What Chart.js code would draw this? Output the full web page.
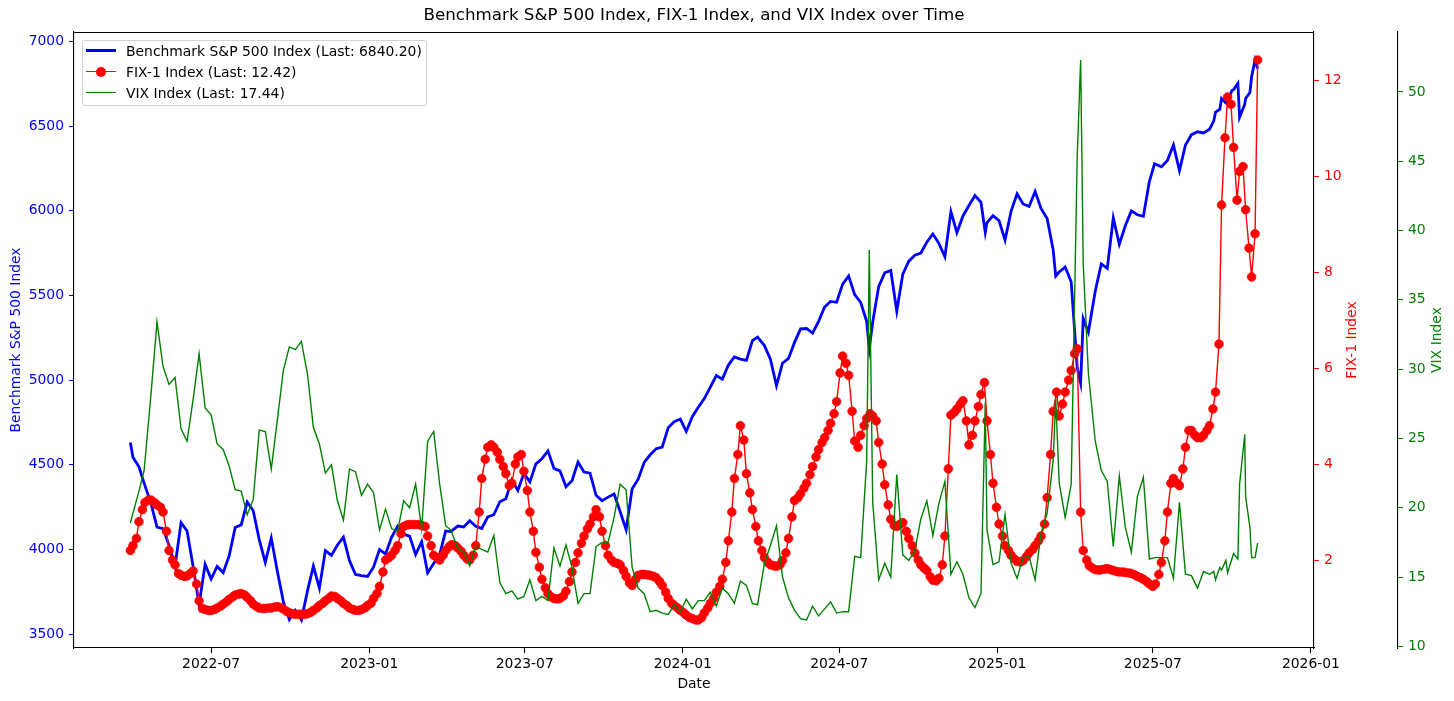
<!DOCTYPE html>
<html>
<head>
<meta charset="utf-8">
<title>Benchmark S&amp;P 500 Index, FIX-1 Index, and VIX Index over Time</title>
<script src="https://cdn.jsdelivr.net/npm/chart.js@4.4.1/dist/chart.umd.min.js"></script>
<style>
  body { margin: 0; background: #fff; }
  #wrap { position: relative; width: 1454px; height: 701px; }
  #legend {
    position: absolute; left: 82px; top: 40px; width: 345px; height: 66px;
    box-sizing: border-box; border: 1px solid #d3d3d3; border-radius: 3px;
    background: rgba(255,255,255,0.8);
    font: 13.9px 'DejaVu Sans', sans-serif; color: #000;
  }
  #legend .row { position: absolute; left: 0; height: 20px; width: 100%; }
  #legend .line { position: absolute; left: 3px; width: 30px; }
  #legend .dot { position: absolute; left: 13px; top: 5px; width: 10px; height: 10px; border-radius: 50%; }
  #legend .txt { position: absolute; left: 43px; top: 0; line-height: 20px; white-space: nowrap; }
</style>
</head>
<body>
<div id="wrap">
  <canvas id="myChart" width="1454" height="701"></canvas>
  <div id="legend"></div>
</div>
<script>
// S&P and VIX: weekly closes plus a few spike days
var dates = [
  '2022-03-29',
  '2022-04-01','2022-04-08','2022-04-14','2022-04-22','2022-04-29',
  '2022-05-06','2022-05-13','2022-05-20','2022-05-27',
  '2022-06-03','2022-06-10','2022-06-17','2022-06-24',
  '2022-07-01','2022-07-08','2022-07-15','2022-07-22','2022-07-29',
  '2022-08-05','2022-08-12','2022-08-19','2022-08-26',
  '2022-09-02','2022-09-09','2022-09-16','2022-09-23','2022-09-30',
  '2022-10-07','2022-10-14','2022-10-21','2022-10-28',
  '2022-11-04','2022-11-11','2022-11-18','2022-11-25',
  '2022-12-02','2022-12-09','2022-12-16','2022-12-23','2022-12-30',
  '2023-01-06','2023-01-13','2023-01-20','2023-01-27',
  '2023-02-03','2023-02-10','2023-02-17','2023-02-24',
  '2023-03-03','2023-03-10','2023-03-17','2023-03-24','2023-03-31',
  '2023-04-06','2023-04-14','2023-04-21','2023-04-28',
  '2023-05-05','2023-05-12','2023-05-19','2023-05-26',
  '2023-06-02','2023-06-09','2023-06-16','2023-06-23','2023-06-30',
  '2023-07-07','2023-07-14','2023-07-21','2023-07-28',
  '2023-08-04','2023-08-11','2023-08-18','2023-08-25',
  '2023-09-01','2023-09-08','2023-09-15','2023-09-22','2023-09-29',
  '2023-10-06','2023-10-13','2023-10-20','2023-10-27',
  '2023-11-03','2023-11-10','2023-11-17','2023-11-24',
  '2023-12-01','2023-12-08','2023-12-15','2023-12-22','2023-12-29',
  '2024-01-05','2024-01-12','2024-01-19','2024-01-26',
  '2024-02-02','2024-02-09','2024-02-16','2024-02-23',
  '2024-03-01','2024-03-08','2024-03-15','2024-03-22','2024-03-28',
  '2024-04-05','2024-04-12','2024-04-19','2024-04-26',
  '2024-05-03','2024-05-10','2024-05-17','2024-05-24','2024-05-31',
  '2024-06-07','2024-06-14','2024-06-21','2024-06-28',
  '2024-07-05','2024-07-12','2024-07-19','2024-07-26',
  '2024-08-02','2024-08-05','2024-08-09','2024-08-16','2024-08-23','2024-08-30',
  '2024-09-06','2024-09-13','2024-09-20','2024-09-27',
  '2024-10-04','2024-10-11','2024-10-18','2024-10-25',
  '2024-11-01','2024-11-08','2024-11-15','2024-11-22','2024-11-29',
  '2024-12-06','2024-12-13','2024-12-18','2024-12-20','2024-12-27',
  '2025-01-03','2025-01-10','2025-01-17','2025-01-24','2025-01-31',
  '2025-02-07','2025-02-14','2025-02-21','2025-02-28',
  '2025-03-07','2025-03-10','2025-03-14','2025-03-21','2025-03-28',
  '2025-04-04','2025-04-08','2025-04-11','2025-04-17','2025-04-25',
  '2025-05-02','2025-05-09','2025-05-16','2025-05-23','2025-05-30',
  '2025-06-06','2025-06-13','2025-06-20','2025-06-27',
  '2025-07-03','2025-07-11','2025-07-18','2025-07-25',
  '2025-08-01','2025-08-08','2025-08-15','2025-08-22','2025-08-29',
  '2025-09-05','2025-09-10','2025-09-12','2025-09-17','2025-09-19','2025-09-24','2025-09-26',
  '2025-10-01','2025-10-03','2025-10-08','2025-10-10','2025-10-16','2025-10-17','2025-10-22','2025-10-24','2025-10-28','2025-10-31'
];

var spx = [
  4632,
  4545, 4488, 4392, 4272, 4132,
  4123, 4024, 3901, 4158,
  4109, 3901, 3675, 3912,
  3825, 3899, 3863, 3962, 4130,
  4145, 4280, 4228, 4058,
  3924, 4067, 3873, 3693, 3586,
  3640, 3583, 3752, 3901,
  3771, 3993, 3965, 4026,
  4072, 3934, 3852, 3845, 3840,
  3895, 3999, 3973, 4071,
  4136, 4090, 4079, 3970,
  4046, 3862, 3917, 3971, 4109,
  4105, 4138, 4133, 4169,
  4136, 4124, 4192, 4205,
  4282, 4299, 4410, 4348, 4450,
  4399, 4505, 4536, 4582,
  4478, 4464, 4370, 4406,
  4516, 4457, 4450, 4320, 4288,
  4309, 4327, 4224, 4117,
  4358, 4415, 4514, 4559,
  4595, 4604, 4719, 4755, 4770,
  4697, 4784, 4840, 4891,
  4959, 5027, 5006, 5089,
  5137, 5124, 5117, 5234, 5254,
  5204, 5123, 4967, 5100,
  5128, 5223, 5303, 5305, 5278,
  5347, 5432, 5465, 5460,
  5567, 5615, 5505, 5459,
  5346, 5186, 5344, 5554, 5634, 5648,
  5408, 5626, 5703, 5738,
  5751, 5815, 5864, 5808,
  5729, 5996, 5871, 5970, 6032,
  6090, 6051, 5872, 5931, 5971,
  5942, 5827, 5997, 6101, 6041,
  6026, 6115, 6013, 5955,
  5770, 5615, 5639, 5668, 5581,
  5074, 4982, 5363, 5283, 5525,
  5687, 5660, 5958, 5803, 5912,
  6000, 5977, 5968, 6173,
  6279, 6260, 6297, 6389,
  6238, 6389, 6450, 6467, 6460,
  6482, 6532, 6584, 6600, 6664, 6638, 6644,
  6711, 6716, 6753, 6553, 6630, 6664, 6699, 6792, 6891, 6840.20
];

var vix = [
  18.9,
  19.6, 21.2, 22.7, 28.2, 33.4,
  30.2, 28.9, 29.4, 25.7,
  24.8, 27.8, 31.1, 27.2,
  26.7, 24.6, 24.2, 23.0, 21.3,
  21.2, 19.5, 20.6, 25.6,
  25.5, 22.8, 26.3, 29.9, 31.6,
  31.4, 32.0, 29.7, 25.8,
  24.6, 22.5, 23.1, 20.5,
  19.1, 22.8, 22.6, 20.9, 21.7,
  21.1, 18.4, 19.9, 18.5,
  18.3, 20.5, 20.0, 21.7,
  18.5, 24.8, 25.5, 21.7, 18.7,
  18.4, 17.1, 16.8, 15.8,
  17.2, 17.0, 16.8, 18.0,
  14.6, 13.8, 14.0, 13.4, 13.6,
  14.8, 13.3, 13.6, 13.3,
  17.1, 15.8, 17.3, 15.7,
  13.1, 13.8, 13.8, 17.2, 17.5,
  17.5, 19.3, 21.7, 21.3,
  15.7, 14.2, 13.8, 12.5,
  12.6, 12.4, 12.3, 13.0, 12.5,
  13.4, 12.7, 13.3, 13.3,
  13.9, 12.9, 14.2, 13.8,
  13.1, 14.7, 14.4, 13.1, 13.0,
  16.0, 17.3, 18.7, 15.0,
  13.5, 12.6, 12.0, 11.9, 12.9,
  12.2, 12.7, 13.2, 12.4,
  12.5, 12.5, 16.5, 16.4,
  23.4, 38.6, 20.4, 14.8, 16.0, 15.0,
  22.4, 16.6, 16.2, 16.9,
  19.2, 20.5, 18.0, 20.3,
  21.9, 15.2, 16.1, 15.2, 13.5,
  12.8, 13.8, 27.6, 18.4, 15.9,
  16.1, 19.5, 16.0, 14.9, 16.4,
  16.5, 14.8, 18.2, 19.6,
  23.4, 27.9, 21.8, 19.3, 21.7,
  45.3, 52.3, 37.6, 29.7, 24.8,
  22.7, 21.9, 17.2, 22.3, 18.6,
  16.8, 20.8, 22.2, 16.3,
  16.4, 16.4, 16.4, 14.9,
  20.4, 15.2, 15.1, 14.2, 15.4,
  15.2, 15.4, 14.8, 15.7, 15.5, 16.2, 15.3,
  16.3, 16.7, 16.3, 21.7, 25.3, 20.8, 18.6, 16.4, 16.4, 17.44
];

// FIX-1: read twice a week (Tue, Fri) from 2022-03-29 to 2025-10-31
var fixStart = '2022-03-29';
var fix = [
  2.2, 2.3,   2.45, 2.8,  3.05, 3.2,  3.25, 3.25,
  3.2, 3.15,  3.1, 3.0,   2.6, 2.2,   2.0, 1.9,
  1.72, 1.68, 1.66, 1.67, 1.72, 1.77, 1.5, 1.15,
  0.99, 0.97, 0.95, 0.95, 0.97, 1.0,  1.04, 1.08,
  1.13, 1.18, 1.23, 1.27, 1.29, 1.3,  1.27, 1.22,
  1.15, 1.08, 1.03, 1.0,  0.99, 0.99, 1.0, 1.0,
  1.02, 1.03, 1.01, 0.98, 0.93, 0.9,  0.88, 0.87,
  0.87, 0.87, 0.87, 0.88, 0.91, 0.95, 1.0, 1.05,
  1.1, 1.15,  1.2, 1.25,  1.24, 1.2,  1.15, 1.1,
  1.05, 1.0,  0.97, 0.95, 0.95, 0.97, 1.0, 1.05,
  1.1, 1.2,   1.3, 1.45,  1.75, 2.0,  2.05, 2.1,
  2.2, 2.3,   2.55, 2.7,  2.73, 2.74, 2.74, 2.74,
  2.74, 2.72, 2.7, 2.5,   2.3, 2.1,   2.05, 2.0,
  2.1, 2.2,   2.28, 2.32, 2.3, 2.25,  2.18, 2.1,
  2.02, 2.0,  2.1, 2.3,   3.0, 3.7,   4.1, 4.35,
  4.4, 4.35,  4.25, 4.1,  3.95, 3.8,  3.55, 3.6,
  4.0, 4.15,  4.2, 3.85,  3.45, 3.0,  2.6, 2.16,
  1.85, 1.6,  1.42, 1.3,  1.23, 1.2,  1.19, 1.2,
  1.25, 1.35, 1.55, 1.75, 1.95, 2.15, 2.35, 2.5,
  2.65, 2.75, 2.9, 3.05,  2.9, 2.6,   2.3, 2.1,
  2.0, 1.95,  1.93, 1.9,  1.78, 1.66, 1.52, 1.47,
  1.6, 1.68,  1.7, 1.7,   1.69, 1.68, 1.66, 1.63,
  1.55, 1.47, 1.33, 1.2,  1.1, 1.05,  1.0, 0.95,
  0.9, 0.85,  0.8, 0.78,  0.75, 0.75, 0.8, 0.9,
  1.0, 1.1,   1.2, 1.33,  1.45, 1.6,  1.95, 2.4,
  3.0, 3.7,   4.2, 4.8,   4.5, 3.8,   3.4, 3.05,
  2.7, 2.4,   2.2, 2.05,  1.95, 1.9,  1.88, 1.87,
  1.9, 1.99,  2.15, 2.45, 2.9, 3.24,  3.3, 3.38,
  3.5, 3.6,   3.78, 3.95, 4.15, 4.3,  4.45, 4.55,
  4.7, 4.85,  5.05, 5.3,  5.9, 6.25,  6.1, 5.85,
  5.1, 4.48,  4.35, 4.6,  4.8, 4.95,  5.05, 5.0,
  4.9, 4.45,  4.0, 3.57,  3.15, 2.85, 2.72, 2.7,
  2.75, 2.78, 2.6, 2.45,  2.3, 2.15,  2.0, 1.9,
  1.83, 1.78, 1.65, 1.58, 1.57, 1.62, 1.9, 2.5,
  3.9, 5.02,  5.08, 5.15, 5.25, 5.32, 4.9, 4.4,
  4.6, 4.9,   5.2, 5.45,  5.7, 4.9,   4.2, 3.6,
  3.1, 2.75,  2.5, 2.3,   2.2, 2.1,   2.02, 1.97,
  1.96, 1.99, 2.07, 2.15, 2.22, 2.3,  2.4, 2.5,
  2.75, 3.3,  4.2, 5.1,   5.5, 5.0,   5.25, 5.5,
  5.75, 5.95, 6.3, 6.4,   3.0, 2.2,   2.0, 1.88,
  1.83, 1.8,  1.79, 1.8,  1.81, 1.82, 1.8, 1.78,
  1.76, 1.75, 1.75, 1.74, 1.73, 1.72, 1.69, 1.66,
  1.63, 1.6,  1.55, 1.5,  1.45, 1.5,  1.7, 1.95,
  2.4, 3.0,   3.6, 3.7,   3.6, 3.55,  3.9, 4.35,
  4.7, 4.7,   4.6, 4.55,  4.55, 4.6,  4.7, 4.8,
  5.15, 5.5,  6.5, 9.4,   10.8, 11.65, 11.5, 10.6,
  9.5, 10.1,  10.2, 9.3,  8.5, 7.9,   8.8, 12.42
];

var xTickLabels = ['2022-07','2023-01','2023-07','2024-01','2024-07','2025-01','2025-07','2026-01'];
var spxTicks = [3500, 4000, 4500, 5000, 5500, 6000, 6500, 7000];
var fixTicks = [2, 4, 6, 8, 10, 12];
var vixTicks = [10, 15, 20, 25, 30, 35, 40, 45, 50];

var FONT = "'DejaVu Sans', sans-serif";
Chart.defaults.font.family = FONT;
Chart.defaults.font.size = 13.9;
Chart.defaults.color = '#000';

var DAY = 864e5;
function toTime(s) { return Date.parse(s); }

// Tue/Fri sampling dates for FIX-1
var fixDates = [];
for (var k = 0, t = toTime(fixStart); k < fix.length; k++) {
  fixDates.push(t);
  t += (k % 2 === 0 ? 3 : 4) * DAY;
}

function pts(times, vals) { return vals.map(function (v, i) { return { x: times[i], y: v }; }); }
// matplotlib style 5% margins
function range(vals) {
  var lo = Math.min.apply(null, vals), hi = Math.max.apply(null, vals), p = (hi - lo) * 0.05;
  return { min: lo - p, max: hi + p };
}
function fixedTicks(list) {
  return function (s) { s.ticks = list.map(function (v) { return { value: v }; }); };
}
function tickGrid(color) {
  return { drawOnChartArea: false, drawTicks: true, tickLength: 5, tickColor: color, tickWidth: 1.1 };
}
function plain(v) { return String(v); }
var frameBorder = { display: true, color: '#000', width: 1.1 };

var weekTimes = dates.map(toTime);
var t0 = weekTimes[0], t1 = weekTimes[weekTimes.length - 1];
var xPad = (t1 - t0) * 0.05;
var spxR = range(spx), fixR = range(fix), vixR = range(vix);

var extras = {
  id: 'extras',
  afterDraw: function (chart) {
    var ctx = chart.ctx, a = chart.chartArea, s = chart.scales;
    ctx.save();
    ctx.strokeStyle = '#000';
    ctx.lineWidth = 1.1;
    ctx.beginPath();
    ctx.moveTo(a.left, Math.round(a.top) + 0.5);
    ctx.lineTo(a.right, Math.round(a.top) + 0.5);
    ctx.stroke();
    ctx.font = '13.9px ' + FONT;
    ctx.textAlign = 'center';
    ctx.textBaseline = 'middle';
    [[s.yFix, 'FIX-1 Index', 'red', 38], [s.yVix, 'VIX Index', 'green', 39]].forEach(function (tt) {
      ctx.save();
      ctx.translate(tt[0].left + tt[3], (a.top + a.bottom) / 2);
      ctx.rotate(-Math.PI / 2);
      ctx.fillStyle = tt[2];
      ctx.fillText(tt[1], 0, 0);
      ctx.restore();
    });
    ctx.restore();
  }
};

var datasets = [{
    label: 'Benchmark S&P 500 Index',
    data: pts(weekTimes, spx),
    yAxisID: 'ySpx',
    borderColor: 'blue',
    borderWidth: 2.8,
    pointRadius: 0,
    order: 3
  }, {
    label: 'FIX-1 Index',
    data: pts(fixDates, fix),
    yAxisID: 'yFix',
    borderColor: 'red',
    backgroundColor: 'red',
    borderWidth: 1.4,
    pointRadius: 4.3,
    pointBorderWidth: 0.8,
    pointBorderColor: 'red',
    pointBackgroundColor: 'red',
    order: 2
  }, {
    label: 'VIX Index',
    data: pts(weekTimes, vix),
    yAxisID: 'yVix',
    borderColor: 'green',
    borderWidth: 1.4,
    pointRadius: 0,
    order: 1
  }];

var ctx = document.getElementById('myChart').getContext('2d');
var chart = new Chart(ctx, {
  type: 'line',
  data: { datasets: datasets },
  plugins: [extras],
  options: {
    responsive: false,
    animation: false,
    devicePixelRatio: 1,
    events: [],
    layout: { padding: 0 },
    elements: { line: { tension: 0 } },
    plugins: {
      legend: { display: false },
      tooltip: { enabled: false },
      title: {
        display: true,
        text: 'Benchmark S&P 500 Index, FIX-1 Index, and VIX Index over Time',
        fullSize: false,
        color: '#000',
        font: { size: 16.7, weight: 'normal' },
        padding: { top: 6, bottom: 6 }
      }
    },
    scales: {
      x: {
        type: 'linear',
        min: t0 - xPad,
        max: t1 + xPad,
        afterBuildTicks: function (s) {
          s.ticks = xTickLabels.map(function (l) { return { value: toTime(l + '-01') }; });
        },
        afterFit: function (s) { s.height = 53; },
        ticks: {
          color: '#000', padding: 3.5, maxRotation: 0, autoSkip: false,
          callback: function (v, i) { return xTickLabels[i]; }
        },
        grid: tickGrid('#000'),
        border: frameBorder,
        title: { display: true, text: 'Date', color: '#000', padding: { top: 0, bottom: 8.7 } }
      },
      ySpx: {
        position: 'left',
        min: spxR.min, max: spxR.max,
        afterBuildTicks: fixedTicks(spxTicks),
        afterFit: function (s) { s.width = 74; },
        ticks: { color: 'blue', padding: 5, callback: plain },
        grid: tickGrid('blue'),
        border: frameBorder,
        title: { display: true, text: 'Benchmark S&P 500 Index', color: 'blue', padding: { top: 8, bottom: 0 } }
      },
      yFix: {
        position: 'right',
        min: fixR.min, max: fixR.max,
        afterBuildTicks: fixedTicks(fixTicks),
        afterFit: function (s) { s.width = 84; },
        ticks: { color: 'red', padding: 5, callback: plain },
        grid: tickGrid('red'),
        border: frameBorder
      },
      yVix: {
        position: 'right',
        min: vixR.min, max: vixR.max,
        afterBuildTicks: fixedTicks(vixTicks),
        afterFit: function (s) { s.width = 56; },
        ticks: { color: 'green', padding: 5, callback: plain },
        grid: tickGrid('green'),
        border: frameBorder
      }
    }
  }
});

// legend box inside the plot, upper left
var lastVals = [spx, fix, vix].map(function (a) { return a[a.length - 1].toFixed(2); });
var rowCenters = [9.7, 30.8, 51.5];
var legend = document.getElementById('legend');
datasets.forEach(function (ds, i) {
  var row = document.createElement('div');
  row.className = 'row';
  row.style.top = (rowCenters[i] - 10) + 'px';
  var line = document.createElement('div');
  line.className = 'line';
  line.style.height = ds.borderWidth + 'px';
  line.style.top = (10 - ds.borderWidth / 2) + 'px';
  line.style.background = ds.borderColor;
  row.appendChild(line);
  if (ds.pointRadius) {
    var dot = document.createElement('div');
    dot.className = 'dot';
    dot.style.background = ds.pointBackgroundColor;
    row.appendChild(dot);
  }
  var txt = document.createElement('span');
  txt.className = 'txt';
  txt.textContent = ds.label + ' (Last: ' + lastVals[i] + ')';
  row.appendChild(txt);
  legend.appendChild(row);
});
</script>
</body>
</html>
